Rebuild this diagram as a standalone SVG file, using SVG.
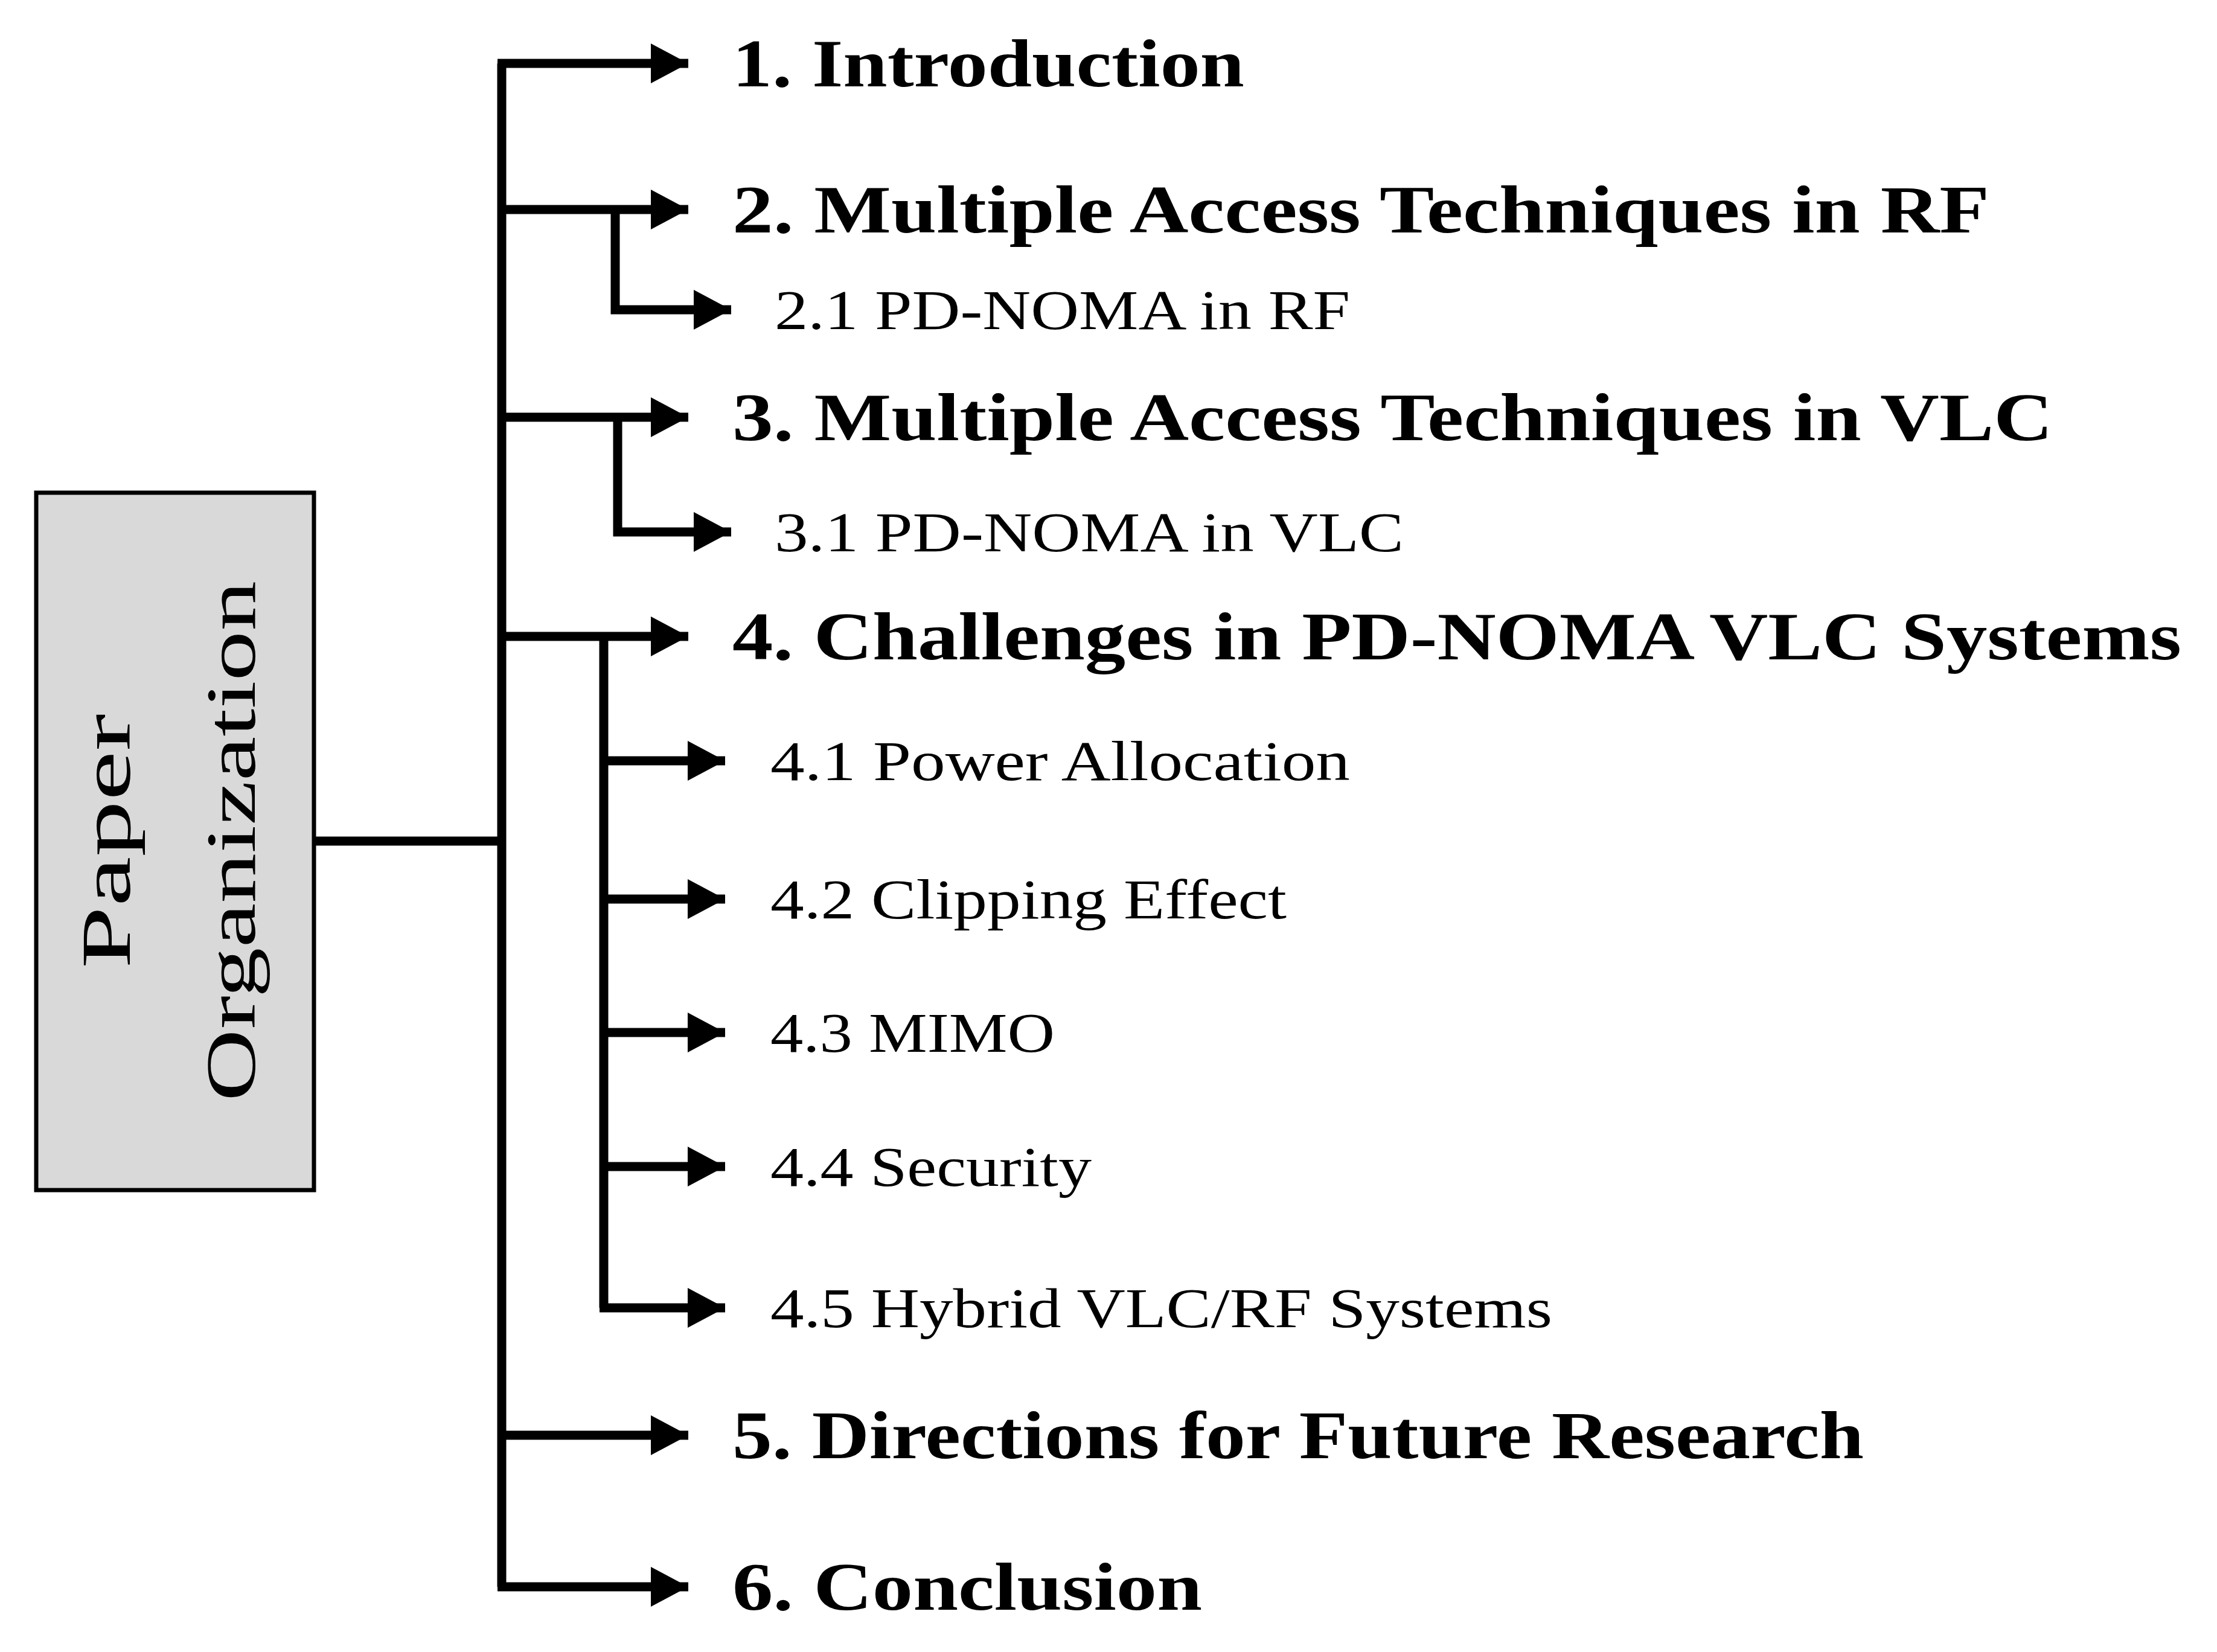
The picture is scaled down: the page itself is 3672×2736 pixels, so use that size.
<svg xmlns="http://www.w3.org/2000/svg" width="3672" height="2736" viewBox="0 0 3672 2736">
<style>
.ln{stroke:#000;stroke-width:15;fill:none}
.m{font-family:"Liberation Serif",serif;font-weight:bold;font-size:112px}
.s{font-family:"Liberation Serif",serif;font-size:94px}
.b{font-family:"Liberation Serif",serif;font-size:117px}
</style>
<defs><marker id="ah" markerUnits="userSpaceOnUse" markerWidth="62" markerHeight="66" refX="62" refY="33" orient="auto"><path d="M0,0 L62,33 L0,66 Z" fill="#000"/></marker></defs>
<rect width="3672" height="2736" fill="#fff"/>
<g id="root"><rect x="60" y="816" width="460" height="1155" fill="#d9d9d9" stroke="#000" stroke-width="7"/>
<text class="b" transform="translate(215,1393) rotate(-90)" text-anchor="middle" textLength="422" lengthAdjust="spacingAndGlyphs">Paper</text>
<text class="b" transform="translate(422,1393) rotate(-90)" text-anchor="middle" textLength="862" lengthAdjust="spacingAndGlyphs">Organization</text></g>
<g id="connectors">
<path class="ln" d="M520,1393 H831 M831,105 V2628"/>
<path class="ln" marker-end="url(#ah)" d="M824,105 H1140"/>
<path class="ln" marker-end="url(#ah)" d="M824,347 H1140"/>
<path class="ln" marker-end="url(#ah)" d="M824,691 H1140"/>
<path class="ln" marker-end="url(#ah)" d="M824,1054 H1140"/>
<path class="ln" marker-end="url(#ah)" d="M824,2377 H1140"/>
<path class="ln" marker-end="url(#ah)" d="M824,2628 H1140"/>
<path class="ln" marker-end="url(#ah)" d="M1019,347 V513 H1211"/>
<path class="ln" marker-end="url(#ah)" d="M1023,691 V881 H1211"/>
<path class="ln" d="M1000,1054 V2166"/>
<path class="ln" marker-end="url(#ah)" d="M993,1260 H1201"/>
<path class="ln" marker-end="url(#ah)" d="M993,1489 H1201"/>
<path class="ln" marker-end="url(#ah)" d="M993,1710 H1201"/>
<path class="ln" marker-end="url(#ah)" d="M993,1932 H1201"/>
<path class="ln" marker-end="url(#ah)" d="M993,2166 H1201"/>
</g>
<g id="n1"><text class="m" x="1213" y="143" textLength="848" lengthAdjust="spacingAndGlyphs">1. Introduction</text></g>
<g id="n2"><text class="m" x="1213" y="385" textLength="2082" lengthAdjust="spacingAndGlyphs">2. Multiple Access Techniques in RF</text></g>
<g id="n21"><text class="s" x="1283" y="545" textLength="953" lengthAdjust="spacingAndGlyphs">2.1 PD-NOMA in RF</text></g>
<g id="n3"><text class="m" x="1213" y="729" textLength="2187" lengthAdjust="spacingAndGlyphs">3. Multiple Access Techniques in VLC</text></g>
<g id="n31"><text class="s" x="1283" y="913" textLength="1042" lengthAdjust="spacingAndGlyphs">3.1 PD-NOMA in VLC</text></g>
<g id="n4"><text class="m" x="1213" y="1092" textLength="2400" lengthAdjust="spacingAndGlyphs">4. Challenges in PD-NOMA VLC Systems</text></g>
<g id="n41"><text class="s" x="1276" y="1292" textLength="960" lengthAdjust="spacingAndGlyphs">4.1 Power Allocation</text></g>
<g id="n42"><text class="s" x="1276" y="1521" textLength="855" lengthAdjust="spacingAndGlyphs">4.2 Clipping Effect</text></g>
<g id="n43"><text class="s" x="1276" y="1742" textLength="471" lengthAdjust="spacingAndGlyphs">4.3 MIMO</text></g>
<g id="n44"><text class="s" x="1276" y="1964" textLength="532" lengthAdjust="spacingAndGlyphs">4.4 Security</text></g>
<g id="n45"><text class="s" x="1276" y="2198" textLength="1295" lengthAdjust="spacingAndGlyphs">4.5 Hybrid VLC/RF Systems</text></g>
<g id="n5"><text class="m" x="1213" y="2415" textLength="1874" lengthAdjust="spacingAndGlyphs">5. Directions for Future Research</text></g>
<g id="n6"><text class="m" x="1213" y="2666" textLength="778" lengthAdjust="spacingAndGlyphs">6. Conclusion</text></g>
</svg>
